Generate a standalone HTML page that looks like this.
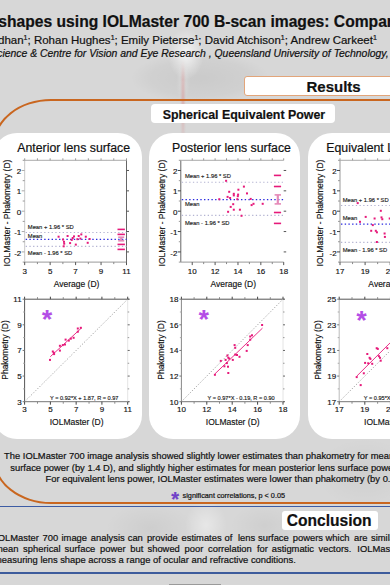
<!DOCTYPE html>
<html><head><meta charset="utf-8"><style>
*{margin:0;padding:0;box-sizing:border-box}
html,body{width:390px;height:585px;overflow:hidden}
body{position:relative;background:#d7d7d7;font-family:"Liberation Sans",sans-serif;color:#111}
.a{position:absolute;white-space:pre;line-height:1;-webkit-text-stroke:0.2px currentColor}
.panel{position:absolute;background:#fff;border-radius:24px}
svg{position:absolute;left:0;top:0;overflow:visible}
svg text{font-family:"Liberation Sans",sans-serif}
</style></head>
<body>
<div style="position:absolute;left:315px;top:438px;width:100px;height:70px;background:radial-gradient(ellipse at center, rgba(0,0,0,0.04) 0%, rgba(0,0,0,0) 70%)"></div>
<div style="position:absolute;left:230px;top:503px;width:70px;height:45px;background:radial-gradient(ellipse at center, rgba(0,0,0,0.04) 0%, rgba(0,0,0,0) 70%)"></div>
<div style="position:absolute;left:105px;top:503px;width:90px;height:50px;background:radial-gradient(ellipse at center, rgba(0,0,0,0.045) 0%, rgba(0,0,0,0) 70%)"></div>
<div style="position:absolute;left:185px;top:500px;width:42px;height:50px;background:radial-gradient(ellipse at center, rgba(255,255,255,0.4) 0%, rgba(255,255,255,0) 70%)"></div>
<div style="position:absolute;left:181.8px;top:60px;width:2.6px;height:76px;filter:blur(0.8px);background:linear-gradient(rgba(220,105,105,0), rgba(220,105,105,0.55) 25%, rgba(220,105,105,0.45) 70%, rgba(220,105,105,0.15))"></div>
<div style="position:absolute;left:176px;top:62px;width:14px;height:40px;background:radial-gradient(ellipse at center, rgba(255,255,255,0.3) 0%, rgba(255,255,255,0) 70%)"></div>
<div style="position:absolute;left:130px;top:52px;width:140px;height:52px;background:radial-gradient(ellipse at center, rgba(0,0,0,0.06) 0%, rgba(0,0,0,0.03) 50%, rgba(0,0,0,0) 70%)"></div>
<div style="position:absolute;left:168px;top:28px;width:36px;height:52px;background:radial-gradient(ellipse at center, rgba(255,255,255,0.75) 0%, rgba(255,255,255,0.25) 45%, rgba(255,255,255,0) 70%)"></div>
<div class="a" style="left:-1.70px;top:13.55px;font-size:15.65px;font-weight:bold;">shapes using IOLMaster 700 B-scan images: Comparison</div>
<div class="a" style="left:-2px;top:33.67px;font-size:11.5px">dhan<sup style="font-size:7px;vertical-align:4px">1</sup>; Rohan Hughes<sup style="font-size:7px;vertical-align:4px">1</sup>; Emily Pieterse<sup style="font-size:7px;vertical-align:4px">1</sup>; David Atchison<sup style="font-size:7px;vertical-align:4px">1</sup>; Andrew Carkeet<sup style="font-size:7px;vertical-align:4px">1</sup></div>
<div class="a" style="left:-2.80px;top:49.48px;font-size:10.42px;font-style:italic;">cience &amp; Centre for Vision and Eye Research , Queensland University of Technology, </div>
<div style="position:absolute;left:168.5px;top:583.5px;width:52.5px;height:5px;background:#cfcfcf;border-top:1px solid #9a9a9a"></div>
<div style="position:absolute;left:-7px;top:98.5px;width:500px;height:405px;border:2px solid #c9661f;border-radius:58px/46px"></div>
<div style="position:absolute;left:244px;top:76px;width:200px;height:20px;background:#fff;border:1px solid #e2a57a;border-radius:3px"></div>
<div class="a" style="left:306.50px;top:78.50px;font-size:15px;font-weight:bold;">Results</div>
<div style="position:absolute;left:151px;top:103.7px;width:184px;height:19px;background:#fff;border-radius:4px"></div>
<div class="a" style="left:162.70px;top:108.60px;font-size:12.4px;font-weight:bold;">Spherical Equivalent Power</div>
<div class="panel" style="left:-7.5px;top:132.7px;width:149.5px;height:306.5px"></div>
<div class="panel" style="left:149.2px;top:132.7px;width:151.3px;height:306.5px"></div>
<div class="panel" style="left:308.2px;top:132.7px;width:151px;height:306.5px"></div>
<div class="a" style="left:17.30px;top:141.59px;font-size:12.3px;">Anterior lens surface</div>
<div class="a" style="left:172.00px;top:141.59px;font-size:12.3px;">Posterior lens surface</div>
<div class="a" style="left:326.30px;top:141.59px;font-size:12.3px;">Equivalent Lens Power</div>
<div class="a" style="left:4.10px;top:452.08px;font-size:9.36px;">The IOLMaster 700 image analysis showed slightly lower estimates than phakometry for mean anterior lens</div>
<div class="a" style="left:10.30px;top:462.64px;font-size:9.4px;">surface power (by 1.4 D), and slightly higher estimates for mean posterior lens surface power</div>
<div class="a" style="left:45.50px;top:473.94px;font-size:9.4px;">For equivalent lens power, IOLMaster estimates were lower than phakometry (by 0.7 D).</div>
<div class="a" style="left:182.60px;top:491.65px;font-size:7.27px;">significant correlations, p &lt; 0.05</div>
<div class="a" style="left:171.3px;top:489px;font-size:20px;font-weight:bold;color:#7040c8">*</div>
<div style="position:absolute;left:0;top:505.7px;width:390px;height:1.6px;background:#3d5ca4"></div>
<div style="position:absolute;left:0;top:571.5px;width:390px;height:2px;background:#3d5c9c"></div>
<div style="position:absolute;left:282.3px;top:511.3px;width:95.4px;height:18.5px;background:#fff;border-radius:3px"></div>
<div class="a" style="left:286.70px;top:513.29px;font-size:15.6px;font-weight:bold;">Conclusion</div>
<div class="a" style="left:-23.58px;top:532.74px;font-size:9.4px;">The IOLMaster</div>
<div class="a" style="left:42.60px;top:532.74px;font-size:9.4px;">700</div>
<div class="a" style="left:61.50px;top:532.74px;font-size:9.4px;">image</div>
<div class="a" style="left:90.80px;top:532.74px;font-size:9.4px;">analysis</div>
<div class="a" style="left:127.70px;top:532.74px;font-size:9.4px;">can</div>
<div class="a" style="left:146.90px;top:532.74px;font-size:9.4px;">provide</div>
<div class="a" style="left:181.50px;top:532.74px;font-size:9.4px;">estimates</div>
<div class="a" style="left:224.60px;top:532.74px;font-size:9.4px;">of</div>
<div class="a" style="left:238.00px;top:532.74px;font-size:9.4px;">lens</div>
<div class="a" style="left:258.00px;top:532.74px;font-size:9.4px;">surface</div>
<div class="a" style="left:292.80px;top:532.74px;font-size:9.4px;">powers</div>
<div class="a" style="left:325.60px;top:532.74px;font-size:9.4px;">which</div>
<div class="a" style="left:354.00px;top:532.74px;font-size:9.4px;">are</div>
<div class="a" style="left:371.00px;top:532.74px;font-size:9.4px;">similar</div>
<div class="a" style="left:-5.00px;top:544.24px;font-size:9.4px;">mean</div>
<div class="a" style="left:23.10px;top:544.24px;font-size:9.4px;">spherical</div>
<div class="a" style="left:64.60px;top:544.24px;font-size:9.4px;">surface</div>
<div class="a" style="left:100.00px;top:544.24px;font-size:9.4px;">power</div>
<div class="a" style="left:130.30px;top:544.24px;font-size:9.4px;">but</div>
<div class="a" style="left:147.50px;top:544.24px;font-size:9.4px;">showed</div>
<div class="a" style="left:184.60px;top:544.24px;font-size:9.4px;">poor</div>
<div class="a" style="left:208.00px;top:544.24px;font-size:9.4px;">correlation</div>
<div class="a" style="left:256.90px;top:544.24px;font-size:9.4px;">for</div>
<div class="a" style="left:271.80px;top:544.24px;font-size:9.4px;">astigmatic</div>
<div class="a" style="left:318.50px;top:544.24px;font-size:9.4px;">vectors.</div>
<div class="a" style="left:357.30px;top:544.24px;font-size:9.4px;">IOLMaster</div>
<div class="a" style="left:-6.00px;top:555.24px;font-size:9.4px;">measuring lens shape across a range of ocular and refractive conditions.</div>
<svg width="390" height="585" viewBox="0 0 390 585"><line x1="24.70" y1="160.30" x2="24.70" y2="262.10" stroke="#c8c8c8" stroke-width="1"/>
<line x1="24.70" y1="262.10" x2="126.50" y2="262.10" stroke="#999" stroke-width="1"/>
<line x1="24.70" y1="160.30" x2="126.50" y2="160.30" stroke="#aaa" stroke-width="1"/>
<line x1="126.50" y1="160.30" x2="126.50" y2="262.10" stroke="#666" stroke-width="1"/>
<line x1="21.70" y1="170.48" x2="24.70" y2="170.48" stroke="#aaa" stroke-width="1"/>
<text x="21.30" y="174.08" font-size="8" text-anchor="end" fill="#111" stroke="#111" stroke-width="0.15">2</text>
<line x1="126.50" y1="170.48" x2="129.00" y2="170.48" stroke="#555" stroke-width="1"/>
<line x1="21.70" y1="190.84" x2="24.70" y2="190.84" stroke="#aaa" stroke-width="1"/>
<text x="21.30" y="194.44" font-size="8" text-anchor="end" fill="#111" stroke="#111" stroke-width="0.15">1</text>
<line x1="126.50" y1="190.84" x2="129.00" y2="190.84" stroke="#555" stroke-width="1"/>
<line x1="21.70" y1="211.20" x2="24.70" y2="211.20" stroke="#aaa" stroke-width="1"/>
<text x="21.30" y="214.80" font-size="8" text-anchor="end" fill="#111" stroke="#111" stroke-width="0.15">0</text>
<line x1="126.50" y1="211.20" x2="129.00" y2="211.20" stroke="#555" stroke-width="1"/>
<line x1="21.70" y1="231.56" x2="24.70" y2="231.56" stroke="#aaa" stroke-width="1"/>
<text x="21.30" y="235.16" font-size="8" text-anchor="end" fill="#111" stroke="#111" stroke-width="0.15">-1</text>
<line x1="126.50" y1="231.56" x2="129.00" y2="231.56" stroke="#555" stroke-width="1"/>
<line x1="21.70" y1="251.92" x2="24.70" y2="251.92" stroke="#aaa" stroke-width="1"/>
<text x="21.30" y="255.52" font-size="8" text-anchor="end" fill="#111" stroke="#111" stroke-width="0.15">-2</text>
<line x1="126.50" y1="251.92" x2="129.00" y2="251.92" stroke="#555" stroke-width="1"/>
<line x1="22.70" y1="160.30" x2="24.70" y2="160.30" stroke="#999" stroke-width="1"/>
<line x1="22.70" y1="180.66" x2="24.70" y2="180.66" stroke="#999" stroke-width="1"/>
<line x1="22.70" y1="201.02" x2="24.70" y2="201.02" stroke="#999" stroke-width="1"/>
<line x1="22.70" y1="221.38" x2="24.70" y2="221.38" stroke="#999" stroke-width="1"/>
<line x1="22.70" y1="241.74" x2="24.70" y2="241.74" stroke="#999" stroke-width="1"/>
<line x1="22.70" y1="262.10" x2="24.70" y2="262.10" stroke="#999" stroke-width="1"/>
<line x1="24.70" y1="262.10" x2="24.70" y2="265.10" stroke="#555" stroke-width="1"/>
<line x1="24.70" y1="158.30" x2="24.70" y2="160.30" stroke="#999" stroke-width="1"/>
<text x="24.70" y="273.60" font-size="8" text-anchor="middle" fill="#111" stroke="#111" stroke-width="0.15">3</text>
<line x1="50.15" y1="262.10" x2="50.15" y2="265.10" stroke="#555" stroke-width="1"/>
<line x1="50.15" y1="158.30" x2="50.15" y2="160.30" stroke="#999" stroke-width="1"/>
<text x="50.15" y="273.60" font-size="8" text-anchor="middle" fill="#111" stroke="#111" stroke-width="0.15">5</text>
<line x1="75.60" y1="262.10" x2="75.60" y2="265.10" stroke="#555" stroke-width="1"/>
<line x1="75.60" y1="158.30" x2="75.60" y2="160.30" stroke="#999" stroke-width="1"/>
<text x="75.60" y="273.60" font-size="8" text-anchor="middle" fill="#111" stroke="#111" stroke-width="0.15">7</text>
<line x1="101.05" y1="262.10" x2="101.05" y2="265.10" stroke="#555" stroke-width="1"/>
<line x1="101.05" y1="158.30" x2="101.05" y2="160.30" stroke="#999" stroke-width="1"/>
<text x="101.05" y="273.60" font-size="8" text-anchor="middle" fill="#111" stroke="#111" stroke-width="0.15">9</text>
<line x1="126.50" y1="262.10" x2="126.50" y2="265.10" stroke="#555" stroke-width="1"/>
<line x1="126.50" y1="158.30" x2="126.50" y2="160.30" stroke="#999" stroke-width="1"/>
<text x="126.50" y="273.60" font-size="8" text-anchor="middle" fill="#111" stroke="#111" stroke-width="0.15">11</text>
<line x1="37.42" y1="262.10" x2="37.42" y2="264.10" stroke="#888" stroke-width="1"/>
<line x1="37.42" y1="158.30" x2="37.42" y2="160.30" stroke="#999" stroke-width="1"/>
<line x1="62.88" y1="262.10" x2="62.88" y2="264.10" stroke="#888" stroke-width="1"/>
<line x1="62.88" y1="158.30" x2="62.88" y2="160.30" stroke="#999" stroke-width="1"/>
<line x1="88.33" y1="262.10" x2="88.33" y2="264.10" stroke="#888" stroke-width="1"/>
<line x1="88.33" y1="158.30" x2="88.33" y2="160.30" stroke="#999" stroke-width="1"/>
<line x1="113.78" y1="262.10" x2="113.78" y2="264.10" stroke="#888" stroke-width="1"/>
<line x1="113.78" y1="158.30" x2="113.78" y2="160.30" stroke="#999" stroke-width="1"/>
<line x1="25.70" y1="232.50" x2="126.50" y2="232.50" stroke="#b4b4d2" stroke-width="1.1" stroke-dasharray="1.3 2.4"/>
<line x1="25.70" y1="239.40" x2="126.50" y2="239.40" stroke="#2a2ae0" stroke-width="1.3" stroke-dasharray="1.4 2.3"/>
<line x1="25.70" y1="246.40" x2="126.50" y2="246.40" stroke="#b4b4d2" stroke-width="1.1" stroke-dasharray="1.3 2.4"/>
<text x="27.80" y="229.20" font-size="5.8" text-anchor="start" fill="#222" stroke="#222" stroke-width="0.15">Mean + 1.96 * SD</text>
<text x="27.80" y="238.20" font-size="5.8" text-anchor="start" fill="#222" stroke="#222" stroke-width="0.15">Mean</text>
<text x="27.80" y="254.70" font-size="5.8" text-anchor="start" fill="#222" stroke="#222" stroke-width="0.15">Mean - 1.96 * SD</text>
<rect x="57.60" y="235.70" width="2.00" height="2.00" fill="#e6197a"/>
<rect x="62.00" y="238.50" width="2.00" height="2.00" fill="#e6197a"/>
<rect x="63.00" y="240.80" width="2.00" height="2.00" fill="#e6197a"/>
<rect x="63.20" y="242.70" width="2.00" height="2.00" fill="#e6197a"/>
<rect x="62.70" y="245.30" width="2.00" height="2.00" fill="#e6197a"/>
<rect x="66.60" y="235.00" width="2.00" height="2.00" fill="#e6197a"/>
<rect x="69.10" y="242.10" width="2.00" height="2.00" fill="#e6197a"/>
<rect x="71.70" y="237.00" width="2.00" height="2.00" fill="#e6197a"/>
<rect x="73.00" y="235.40" width="2.00" height="2.00" fill="#e6197a"/>
<rect x="70.70" y="238.90" width="2.00" height="2.00" fill="#e6197a"/>
<rect x="74.80" y="243.60" width="2.00" height="2.00" fill="#e6197a"/>
<rect x="76.40" y="238.20" width="2.00" height="2.00" fill="#e6197a"/>
<rect x="77.70" y="235.00" width="2.00" height="2.00" fill="#e6197a"/>
<rect x="79.40" y="237.60" width="2.00" height="2.00" fill="#e6197a"/>
<rect x="80.30" y="233.40" width="2.00" height="2.00" fill="#e6197a"/>
<rect x="84.80" y="235.70" width="2.00" height="2.00" fill="#e6197a"/>
<rect x="86.70" y="241.80" width="2.00" height="2.00" fill="#e6197a"/>
<rect x="88.60" y="238.00" width="2.00" height="2.00" fill="#e6197a"/>
<line x1="117.50" y1="229.40" x2="124.90" y2="229.40" stroke="#e6197a" stroke-width="1.6"/>
<line x1="117.50" y1="234.40" x2="124.90" y2="234.40" stroke="#e6197a" stroke-width="1.6"/>
<line x1="117.50" y1="244.40" x2="124.90" y2="244.40" stroke="#e6197a" stroke-width="1.6"/>
<line x1="117.50" y1="249.40" x2="124.90" y2="249.40" stroke="#e6197a" stroke-width="1.6"/>
<line x1="121.20" y1="237.20" x2="121.20" y2="240.80" stroke="#e58ab8" stroke-width="2.2"/>
<line x1="118.20" y1="237.20" x2="124.20" y2="237.20" stroke="#e58ab8" stroke-width="1.6"/>
<line x1="118.20" y1="240.80" x2="124.20" y2="240.80" stroke="#e58ab8" stroke-width="1.6"/>
<text x="76.60" y="286.50" font-size="8.5" text-anchor="middle" fill="#111" stroke="#111" stroke-width="0.15">Average (D)</text>
<text x="9.50" y="213.00" font-size="8.5" text-anchor="middle" fill="#111" stroke="#111" stroke-width="0.15" transform="rotate(-90 9.50 213.00)">IOLMaster - Phakometry (D)</text>
<line x1="180.80" y1="160.30" x2="180.80" y2="262.10" stroke="#666" stroke-width="1"/>
<line x1="180.80" y1="262.10" x2="283.70" y2="262.10" stroke="#999" stroke-width="1"/>
<line x1="180.80" y1="160.30" x2="283.70" y2="160.30" stroke="#aaa" stroke-width="1"/>
<line x1="177.80" y1="170.48" x2="180.80" y2="170.48" stroke="#444" stroke-width="1"/>
<text x="177.40" y="174.08" font-size="8" text-anchor="end" fill="#111" stroke="#111" stroke-width="0.15">2</text>
<line x1="283.70" y1="170.48" x2="286.20" y2="170.48" stroke="#555" stroke-width="1"/>
<line x1="177.80" y1="190.84" x2="180.80" y2="190.84" stroke="#444" stroke-width="1"/>
<text x="177.40" y="194.44" font-size="8" text-anchor="end" fill="#111" stroke="#111" stroke-width="0.15">1</text>
<line x1="283.70" y1="190.84" x2="286.20" y2="190.84" stroke="#555" stroke-width="1"/>
<line x1="177.80" y1="211.20" x2="180.80" y2="211.20" stroke="#444" stroke-width="1"/>
<text x="177.40" y="214.80" font-size="8" text-anchor="end" fill="#111" stroke="#111" stroke-width="0.15">0</text>
<line x1="283.70" y1="211.20" x2="286.20" y2="211.20" stroke="#555" stroke-width="1"/>
<line x1="177.80" y1="231.56" x2="180.80" y2="231.56" stroke="#444" stroke-width="1"/>
<text x="177.40" y="235.16" font-size="8" text-anchor="end" fill="#111" stroke="#111" stroke-width="0.15">-1</text>
<line x1="283.70" y1="231.56" x2="286.20" y2="231.56" stroke="#555" stroke-width="1"/>
<line x1="177.80" y1="251.92" x2="180.80" y2="251.92" stroke="#444" stroke-width="1"/>
<text x="177.40" y="255.52" font-size="8" text-anchor="end" fill="#111" stroke="#111" stroke-width="0.15">-2</text>
<line x1="283.70" y1="251.92" x2="286.20" y2="251.92" stroke="#555" stroke-width="1"/>
<line x1="178.80" y1="160.30" x2="180.80" y2="160.30" stroke="#999" stroke-width="1"/>
<line x1="178.80" y1="180.66" x2="180.80" y2="180.66" stroke="#999" stroke-width="1"/>
<line x1="178.80" y1="201.02" x2="180.80" y2="201.02" stroke="#999" stroke-width="1"/>
<line x1="178.80" y1="221.38" x2="180.80" y2="221.38" stroke="#999" stroke-width="1"/>
<line x1="178.80" y1="241.74" x2="180.80" y2="241.74" stroke="#999" stroke-width="1"/>
<line x1="178.80" y1="262.10" x2="180.80" y2="262.10" stroke="#999" stroke-width="1"/>
<line x1="192.23" y1="262.10" x2="192.23" y2="265.10" stroke="#555" stroke-width="1"/>
<line x1="192.23" y1="158.30" x2="192.23" y2="160.30" stroke="#999" stroke-width="1"/>
<text x="192.23" y="273.60" font-size="8" text-anchor="middle" fill="#111" stroke="#111" stroke-width="0.15">10</text>
<line x1="215.10" y1="262.10" x2="215.10" y2="265.10" stroke="#555" stroke-width="1"/>
<line x1="215.10" y1="158.30" x2="215.10" y2="160.30" stroke="#999" stroke-width="1"/>
<text x="215.10" y="273.60" font-size="8" text-anchor="middle" fill="#111" stroke="#111" stroke-width="0.15">12</text>
<line x1="237.97" y1="262.10" x2="237.97" y2="265.10" stroke="#555" stroke-width="1"/>
<line x1="237.97" y1="158.30" x2="237.97" y2="160.30" stroke="#999" stroke-width="1"/>
<text x="237.97" y="273.60" font-size="8" text-anchor="middle" fill="#111" stroke="#111" stroke-width="0.15">14</text>
<line x1="260.83" y1="262.10" x2="260.83" y2="265.10" stroke="#555" stroke-width="1"/>
<line x1="260.83" y1="158.30" x2="260.83" y2="160.30" stroke="#999" stroke-width="1"/>
<text x="260.83" y="273.60" font-size="8" text-anchor="middle" fill="#111" stroke="#111" stroke-width="0.15">16</text>
<line x1="283.70" y1="262.10" x2="283.70" y2="265.10" stroke="#555" stroke-width="1"/>
<line x1="283.70" y1="158.30" x2="283.70" y2="160.30" stroke="#999" stroke-width="1"/>
<text x="283.70" y="273.60" font-size="8" text-anchor="middle" fill="#111" stroke="#111" stroke-width="0.15">18</text>
<line x1="203.67" y1="262.10" x2="203.67" y2="264.10" stroke="#888" stroke-width="1"/>
<line x1="203.67" y1="158.30" x2="203.67" y2="160.30" stroke="#999" stroke-width="1"/>
<line x1="226.53" y1="262.10" x2="226.53" y2="264.10" stroke="#888" stroke-width="1"/>
<line x1="226.53" y1="158.30" x2="226.53" y2="160.30" stroke="#999" stroke-width="1"/>
<line x1="249.40" y1="262.10" x2="249.40" y2="264.10" stroke="#888" stroke-width="1"/>
<line x1="249.40" y1="158.30" x2="249.40" y2="160.30" stroke="#999" stroke-width="1"/>
<line x1="272.27" y1="262.10" x2="272.27" y2="264.10" stroke="#888" stroke-width="1"/>
<line x1="272.27" y1="158.30" x2="272.27" y2="160.30" stroke="#999" stroke-width="1"/>
<line x1="181.80" y1="182.30" x2="283.70" y2="182.30" stroke="#b4b4d2" stroke-width="1.1" stroke-dasharray="1.3 2.4"/>
<line x1="181.80" y1="199.60" x2="283.70" y2="199.60" stroke="#2a2ae0" stroke-width="1.3" stroke-dasharray="1.4 2.3"/>
<line x1="181.80" y1="215.40" x2="283.70" y2="215.40" stroke="#b4b4d2" stroke-width="1.1" stroke-dasharray="1.3 2.4"/>
<text x="185.00" y="178.20" font-size="5.8" text-anchor="start" fill="#222" stroke="#222" stroke-width="0.15">Mean + 1.96 * SD</text>
<text x="185.00" y="206.40" font-size="5.8" text-anchor="start" fill="#222" stroke="#222" stroke-width="0.15">Mean</text>
<text x="185.00" y="224.90" font-size="5.8" text-anchor="start" fill="#222" stroke="#222" stroke-width="0.15">Mean - 1.96 * SD</text>
<rect x="225.10" y="179.80" width="2.00" height="2.00" fill="#e6197a"/>
<rect x="242.90" y="185.60" width="2.00" height="2.00" fill="#e6197a"/>
<rect x="237.40" y="188.70" width="2.00" height="2.00" fill="#e6197a"/>
<rect x="228.20" y="190.80" width="2.00" height="2.00" fill="#e6197a"/>
<rect x="246.00" y="192.40" width="2.00" height="2.00" fill="#e6197a"/>
<rect x="232.80" y="192.80" width="2.00" height="2.00" fill="#e6197a"/>
<rect x="232.80" y="194.40" width="2.00" height="2.00" fill="#e6197a"/>
<rect x="237.10" y="193.60" width="2.00" height="2.00" fill="#e6197a"/>
<rect x="236.80" y="195.20" width="2.00" height="2.00" fill="#e6197a"/>
<rect x="226.60" y="195.90" width="2.00" height="2.00" fill="#e6197a"/>
<rect x="229.10" y="197.00" width="2.00" height="2.00" fill="#e6197a"/>
<rect x="218.30" y="198.20" width="2.00" height="2.00" fill="#e6197a"/>
<rect x="236.30" y="198.20" width="2.00" height="2.00" fill="#e6197a"/>
<rect x="249.70" y="197.90" width="2.00" height="2.00" fill="#e6197a"/>
<rect x="252.50" y="202.80" width="2.00" height="2.00" fill="#e6197a"/>
<rect x="250.60" y="204.10" width="2.00" height="2.00" fill="#e6197a"/>
<rect x="261.70" y="202.80" width="2.00" height="2.00" fill="#e6197a"/>
<rect x="232.20" y="203.20" width="2.00" height="2.00" fill="#e6197a"/>
<rect x="229.70" y="205.90" width="2.00" height="2.00" fill="#e6197a"/>
<rect x="232.80" y="208.70" width="2.00" height="2.00" fill="#e6197a"/>
<rect x="238.90" y="208.70" width="2.00" height="2.00" fill="#e6197a"/>
<rect x="227.10" y="210.80" width="2.00" height="2.00" fill="#e6197a"/>
<rect x="240.50" y="214.80" width="2.00" height="2.00" fill="#e6197a"/>
<line x1="273.90" y1="175.40" x2="281.10" y2="175.40" stroke="#e6197a" stroke-width="1.6"/>
<line x1="273.90" y1="186.50" x2="281.10" y2="186.50" stroke="#e6197a" stroke-width="1.6"/>
<line x1="273.90" y1="212.50" x2="281.10" y2="212.50" stroke="#e6197a" stroke-width="1.6"/>
<line x1="273.90" y1="223.40" x2="281.10" y2="223.40" stroke="#e6197a" stroke-width="1.6"/>
<line x1="277.80" y1="194.90" x2="277.80" y2="203.90" stroke="#e58ab8" stroke-width="2.2"/>
<line x1="274.60" y1="194.90" x2="281.00" y2="194.90" stroke="#e58ab8" stroke-width="1.6"/>
<line x1="274.60" y1="203.90" x2="281.00" y2="203.90" stroke="#e58ab8" stroke-width="1.6"/>
<text x="233.25" y="286.50" font-size="8.5" text-anchor="middle" fill="#111" stroke="#111" stroke-width="0.15">Average (D)</text>
<text x="164.80" y="213.00" font-size="8.5" text-anchor="middle" fill="#111" stroke="#111" stroke-width="0.15" transform="rotate(-90 164.80 213.00)">IOLMaster - Phakometry (D)</text>
<line x1="340.00" y1="160.30" x2="340.00" y2="262.10" stroke="#999" stroke-width="1"/>
<line x1="340.00" y1="262.10" x2="440.40" y2="262.10" stroke="#999" stroke-width="1"/>
<line x1="340.00" y1="160.30" x2="440.40" y2="160.30" stroke="#aaa" stroke-width="1"/>
<line x1="337.00" y1="170.48" x2="340.00" y2="170.48" stroke="#444" stroke-width="1"/>
<text x="336.60" y="174.08" font-size="8" text-anchor="end" fill="#111" stroke="#111" stroke-width="0.15">2</text>
<line x1="440.40" y1="170.48" x2="442.90" y2="170.48" stroke="#555" stroke-width="1"/>
<line x1="337.00" y1="190.84" x2="340.00" y2="190.84" stroke="#444" stroke-width="1"/>
<text x="336.60" y="194.44" font-size="8" text-anchor="end" fill="#111" stroke="#111" stroke-width="0.15">1</text>
<line x1="440.40" y1="190.84" x2="442.90" y2="190.84" stroke="#555" stroke-width="1"/>
<line x1="337.00" y1="211.20" x2="340.00" y2="211.20" stroke="#444" stroke-width="1"/>
<text x="336.60" y="214.80" font-size="8" text-anchor="end" fill="#111" stroke="#111" stroke-width="0.15">0</text>
<line x1="440.40" y1="211.20" x2="442.90" y2="211.20" stroke="#555" stroke-width="1"/>
<line x1="337.00" y1="231.56" x2="340.00" y2="231.56" stroke="#444" stroke-width="1"/>
<text x="336.60" y="235.16" font-size="8" text-anchor="end" fill="#111" stroke="#111" stroke-width="0.15">-1</text>
<line x1="440.40" y1="231.56" x2="442.90" y2="231.56" stroke="#555" stroke-width="1"/>
<line x1="337.00" y1="251.92" x2="340.00" y2="251.92" stroke="#444" stroke-width="1"/>
<text x="336.60" y="255.52" font-size="8" text-anchor="end" fill="#111" stroke="#111" stroke-width="0.15">-2</text>
<line x1="440.40" y1="251.92" x2="442.90" y2="251.92" stroke="#555" stroke-width="1"/>
<line x1="338.00" y1="160.30" x2="340.00" y2="160.30" stroke="#999" stroke-width="1"/>
<line x1="338.00" y1="180.66" x2="340.00" y2="180.66" stroke="#999" stroke-width="1"/>
<line x1="338.00" y1="201.02" x2="340.00" y2="201.02" stroke="#999" stroke-width="1"/>
<line x1="338.00" y1="221.38" x2="340.00" y2="221.38" stroke="#999" stroke-width="1"/>
<line x1="338.00" y1="241.74" x2="340.00" y2="241.74" stroke="#999" stroke-width="1"/>
<line x1="338.00" y1="262.10" x2="340.00" y2="262.10" stroke="#999" stroke-width="1"/>
<line x1="340.00" y1="262.10" x2="340.00" y2="265.10" stroke="#555" stroke-width="1"/>
<line x1="340.00" y1="158.30" x2="340.00" y2="160.30" stroke="#999" stroke-width="1"/>
<text x="340.00" y="273.60" font-size="8" text-anchor="middle" fill="#111" stroke="#111" stroke-width="0.15">17</text>
<line x1="365.10" y1="262.10" x2="365.10" y2="265.10" stroke="#555" stroke-width="1"/>
<line x1="365.10" y1="158.30" x2="365.10" y2="160.30" stroke="#999" stroke-width="1"/>
<text x="365.10" y="273.60" font-size="8" text-anchor="middle" fill="#111" stroke="#111" stroke-width="0.15">19</text>
<line x1="390.20" y1="262.10" x2="390.20" y2="265.10" stroke="#555" stroke-width="1"/>
<line x1="390.20" y1="158.30" x2="390.20" y2="160.30" stroke="#999" stroke-width="1"/>
<text x="390.20" y="273.60" font-size="8" text-anchor="middle" fill="#111" stroke="#111" stroke-width="0.15">21</text>
<line x1="415.30" y1="262.10" x2="415.30" y2="265.10" stroke="#555" stroke-width="1"/>
<line x1="415.30" y1="158.30" x2="415.30" y2="160.30" stroke="#999" stroke-width="1"/>
<text x="415.30" y="273.60" font-size="8" text-anchor="middle" fill="#111" stroke="#111" stroke-width="0.15">23</text>
<line x1="440.40" y1="262.10" x2="440.40" y2="265.10" stroke="#555" stroke-width="1"/>
<line x1="440.40" y1="158.30" x2="440.40" y2="160.30" stroke="#999" stroke-width="1"/>
<text x="440.40" y="273.60" font-size="8" text-anchor="middle" fill="#111" stroke="#111" stroke-width="0.15">25</text>
<line x1="352.55" y1="262.10" x2="352.55" y2="264.10" stroke="#888" stroke-width="1"/>
<line x1="352.55" y1="158.30" x2="352.55" y2="160.30" stroke="#999" stroke-width="1"/>
<line x1="377.65" y1="262.10" x2="377.65" y2="264.10" stroke="#888" stroke-width="1"/>
<line x1="377.65" y1="158.30" x2="377.65" y2="160.30" stroke="#999" stroke-width="1"/>
<line x1="402.75" y1="262.10" x2="402.75" y2="264.10" stroke="#888" stroke-width="1"/>
<line x1="402.75" y1="158.30" x2="402.75" y2="160.30" stroke="#999" stroke-width="1"/>
<line x1="427.85" y1="262.10" x2="427.85" y2="264.10" stroke="#888" stroke-width="1"/>
<line x1="427.85" y1="158.30" x2="427.85" y2="160.30" stroke="#999" stroke-width="1"/>
<line x1="341.00" y1="205.50" x2="440.40" y2="205.50" stroke="#b4b4d2" stroke-width="1.1" stroke-dasharray="1.3 2.4"/>
<line x1="341.00" y1="224.20" x2="440.40" y2="224.20" stroke="#2a2ae0" stroke-width="1.3" stroke-dasharray="1.4 2.3"/>
<line x1="341.00" y1="242.40" x2="440.40" y2="242.40" stroke="#b4b4d2" stroke-width="1.1" stroke-dasharray="1.3 2.4"/>
<text x="342.70" y="201.90" font-size="5.8" text-anchor="start" fill="#222" stroke="#222" stroke-width="0.15">Mean + 1.96 * SD</text>
<text x="342.70" y="220.20" font-size="5.8" text-anchor="start" fill="#222" stroke="#222" stroke-width="0.15">Mean</text>
<text x="342.70" y="251.60" font-size="5.8" text-anchor="start" fill="#222" stroke="#222" stroke-width="0.15">Mean - 1.96 * SD</text>
<rect x="356.70" y="202.10" width="2.00" height="2.00" fill="#e6197a"/>
<rect x="364.70" y="215.90" width="2.00" height="2.00" fill="#e6197a"/>
<rect x="373.60" y="217.50" width="2.00" height="2.00" fill="#e6197a"/>
<rect x="359.00" y="220.80" width="2.00" height="2.00" fill="#e6197a"/>
<rect x="371.80" y="224.10" width="2.00" height="2.00" fill="#e6197a"/>
<rect x="379.80" y="209.80" width="2.00" height="2.00" fill="#e6197a"/>
<rect x="380.50" y="216.40" width="2.00" height="2.00" fill="#e6197a"/>
<rect x="381.30" y="218.20" width="2.00" height="2.00" fill="#e6197a"/>
<rect x="388.70" y="217.50" width="2.00" height="2.00" fill="#e6197a"/>
<rect x="370.20" y="229.80" width="2.00" height="2.00" fill="#e6197a"/>
<rect x="374.80" y="229.80" width="2.00" height="2.00" fill="#e6197a"/>
<rect x="375.90" y="231.30" width="2.00" height="2.00" fill="#e6197a"/>
<rect x="383.60" y="232.50" width="2.00" height="2.00" fill="#e6197a"/>
<rect x="383.90" y="235.90" width="2.00" height="2.00" fill="#e6197a"/>
<rect x="375.90" y="241.00" width="2.00" height="2.00" fill="#e6197a"/>
<text x="391.20" y="286.50" font-size="8.5" text-anchor="middle" fill="#111" stroke="#111" stroke-width="0.15">Average (D)</text>
<text x="322.50" y="213.00" font-size="8.5" text-anchor="middle" fill="#111" stroke="#111" stroke-width="0.15" transform="rotate(-90 322.50 213.00)">IOLMaster - Phakometry (D)</text>
<line x1="24.60" y1="299.20" x2="24.60" y2="401.70" stroke="#555" stroke-width="1"/>
<line x1="24.60" y1="401.70" x2="129.20" y2="401.70" stroke="#777" stroke-width="1"/>
<line x1="24.60" y1="299.20" x2="129.20" y2="299.20" stroke="#555" stroke-width="1"/>
<line x1="127.70" y1="299.20" x2="127.70" y2="401.70" stroke="#e4e4e4" stroke-width="1"/>
<line x1="24.60" y1="401.70" x2="127.70" y2="299.20" stroke="#888" stroke-width="0.8" stroke-dasharray="1.2 1.8"/>
<line x1="24.60" y1="401.70" x2="24.60" y2="404.70" stroke="#444" stroke-width="1"/>
<line x1="24.60" y1="296.70" x2="24.60" y2="299.20" stroke="#444" stroke-width="1"/>
<text x="24.60" y="411.50" font-size="8" text-anchor="middle" fill="#111" stroke="#111" stroke-width="0.15">3</text>
<line x1="22.60" y1="401.70" x2="24.60" y2="401.70" stroke="#777" stroke-width="1"/>
<line x1="127.70" y1="401.70" x2="129.70" y2="401.70" stroke="#666" stroke-width="1"/>
<text x="21.60" y="404.60" font-size="8" text-anchor="end" fill="#111" stroke="#111" stroke-width="0.15">3</text>
<line x1="37.49" y1="401.70" x2="37.49" y2="403.70" stroke="#888" stroke-width="1"/>
<line x1="37.49" y1="297.20" x2="37.49" y2="299.20" stroke="#888" stroke-width="1"/>
<line x1="23.10" y1="388.89" x2="24.60" y2="388.89" stroke="#aaa" stroke-width="1"/>
<line x1="127.70" y1="388.89" x2="129.20" y2="388.89" stroke="#999" stroke-width="1"/>
<line x1="50.38" y1="401.70" x2="50.38" y2="404.70" stroke="#444" stroke-width="1"/>
<line x1="50.38" y1="296.70" x2="50.38" y2="299.20" stroke="#444" stroke-width="1"/>
<text x="50.38" y="411.50" font-size="8" text-anchor="middle" fill="#111" stroke="#111" stroke-width="0.15">5</text>
<line x1="22.60" y1="376.07" x2="24.60" y2="376.07" stroke="#777" stroke-width="1"/>
<line x1="127.70" y1="376.07" x2="129.70" y2="376.07" stroke="#666" stroke-width="1"/>
<text x="21.60" y="378.97" font-size="8" text-anchor="end" fill="#111" stroke="#111" stroke-width="0.15">5</text>
<line x1="63.26" y1="401.70" x2="63.26" y2="403.70" stroke="#888" stroke-width="1"/>
<line x1="63.26" y1="297.20" x2="63.26" y2="299.20" stroke="#888" stroke-width="1"/>
<line x1="23.10" y1="363.26" x2="24.60" y2="363.26" stroke="#aaa" stroke-width="1"/>
<line x1="127.70" y1="363.26" x2="129.20" y2="363.26" stroke="#999" stroke-width="1"/>
<line x1="76.15" y1="401.70" x2="76.15" y2="404.70" stroke="#444" stroke-width="1"/>
<line x1="76.15" y1="296.70" x2="76.15" y2="299.20" stroke="#444" stroke-width="1"/>
<text x="76.15" y="411.50" font-size="8" text-anchor="middle" fill="#111" stroke="#111" stroke-width="0.15">7</text>
<line x1="22.60" y1="350.45" x2="24.60" y2="350.45" stroke="#777" stroke-width="1"/>
<line x1="127.70" y1="350.45" x2="129.70" y2="350.45" stroke="#666" stroke-width="1"/>
<text x="21.60" y="353.35" font-size="8" text-anchor="end" fill="#111" stroke="#111" stroke-width="0.15">7</text>
<line x1="89.04" y1="401.70" x2="89.04" y2="403.70" stroke="#888" stroke-width="1"/>
<line x1="89.04" y1="297.20" x2="89.04" y2="299.20" stroke="#888" stroke-width="1"/>
<line x1="23.10" y1="337.64" x2="24.60" y2="337.64" stroke="#aaa" stroke-width="1"/>
<line x1="127.70" y1="337.64" x2="129.20" y2="337.64" stroke="#999" stroke-width="1"/>
<line x1="101.92" y1="401.70" x2="101.92" y2="404.70" stroke="#444" stroke-width="1"/>
<line x1="101.92" y1="296.70" x2="101.92" y2="299.20" stroke="#444" stroke-width="1"/>
<text x="101.92" y="411.50" font-size="8" text-anchor="middle" fill="#111" stroke="#111" stroke-width="0.15">9</text>
<line x1="22.60" y1="324.82" x2="24.60" y2="324.82" stroke="#777" stroke-width="1"/>
<line x1="127.70" y1="324.82" x2="129.70" y2="324.82" stroke="#666" stroke-width="1"/>
<text x="21.60" y="327.72" font-size="8" text-anchor="end" fill="#111" stroke="#111" stroke-width="0.15">9</text>
<line x1="114.81" y1="401.70" x2="114.81" y2="403.70" stroke="#888" stroke-width="1"/>
<line x1="114.81" y1="297.20" x2="114.81" y2="299.20" stroke="#888" stroke-width="1"/>
<line x1="23.10" y1="312.01" x2="24.60" y2="312.01" stroke="#aaa" stroke-width="1"/>
<line x1="127.70" y1="312.01" x2="129.20" y2="312.01" stroke="#999" stroke-width="1"/>
<line x1="127.70" y1="401.70" x2="127.70" y2="404.70" stroke="#444" stroke-width="1"/>
<line x1="127.70" y1="296.70" x2="127.70" y2="299.20" stroke="#444" stroke-width="1"/>
<text x="127.70" y="411.50" font-size="8" text-anchor="middle" fill="#111" stroke="#111" stroke-width="0.15">11</text>
<line x1="22.60" y1="299.20" x2="24.60" y2="299.20" stroke="#777" stroke-width="1"/>
<line x1="127.70" y1="299.20" x2="129.70" y2="299.20" stroke="#666" stroke-width="1"/>
<text x="21.60" y="302.10" font-size="8" text-anchor="end" fill="#111" stroke="#111" stroke-width="0.15">11</text>
<line x1="50.30" y1="356.70" x2="81.70" y2="327.80" stroke="#e6197a" stroke-width="0.9"/>
<rect x="49.00" y="358.90" width="2.00" height="2.00" fill="#e6197a"/>
<rect x="51.80" y="350.50" width="2.00" height="2.00" fill="#e6197a"/>
<rect x="52.80" y="351.80" width="2.00" height="2.00" fill="#e6197a"/>
<rect x="53.10" y="353.10" width="2.00" height="2.00" fill="#e6197a"/>
<rect x="58.90" y="344.80" width="2.00" height="2.00" fill="#e6197a"/>
<rect x="58.90" y="349.60" width="2.00" height="2.00" fill="#e6197a"/>
<rect x="61.80" y="344.10" width="2.00" height="2.00" fill="#e6197a"/>
<rect x="64.00" y="343.50" width="2.00" height="2.00" fill="#e6197a"/>
<rect x="64.60" y="338.60" width="2.00" height="2.00" fill="#e6197a"/>
<rect x="67.80" y="339.60" width="2.00" height="2.00" fill="#e6197a"/>
<rect x="69.80" y="337.70" width="2.00" height="2.00" fill="#e6197a"/>
<rect x="72.60" y="336.80" width="2.00" height="2.00" fill="#e6197a"/>
<rect x="76.80" y="327.50" width="2.00" height="2.00" fill="#e6197a"/>
<rect x="76.80" y="330.70" width="2.00" height="2.00" fill="#e6197a"/>
<rect x="79.80" y="326.80" width="2.00" height="2.00" fill="#e6197a"/>
<text x="47.00" y="327.50" font-size="26" text-anchor="middle" fill="#b44de6" stroke="#b44de6" stroke-width="0.15" font-weight="bold">*</text>
<text x="50.00" y="399.60" font-size="5.6" text-anchor="start" fill="#222" stroke="#222" stroke-width="0.15">Y = 0.92*X + 1.87, R = 0.97</text>
<text x="76.65" y="424.50" font-size="8.5" text-anchor="middle" fill="#111" stroke="#111" stroke-width="0.15">IOLMaster (D)</text>
<text x="7.50" y="350.00" font-size="8.5" text-anchor="middle" fill="#111" stroke="#111" stroke-width="0.15" transform="rotate(-90 7.50 350.00)">Phakometry (D)</text>
<line x1="181.40" y1="299.20" x2="181.40" y2="401.70" stroke="#888" stroke-width="1"/>
<line x1="181.40" y1="401.70" x2="284.50" y2="401.70" stroke="#777" stroke-width="1"/>
<line x1="181.40" y1="299.20" x2="284.50" y2="299.20" stroke="#555" stroke-width="1"/>
<line x1="283.00" y1="299.20" x2="283.00" y2="401.70" stroke="#e4e4e4" stroke-width="1"/>
<line x1="181.40" y1="401.70" x2="283.00" y2="299.20" stroke="#888" stroke-width="0.8" stroke-dasharray="1.2 1.8"/>
<line x1="181.40" y1="401.70" x2="181.40" y2="404.70" stroke="#444" stroke-width="1"/>
<line x1="181.40" y1="296.70" x2="181.40" y2="299.20" stroke="#444" stroke-width="1"/>
<text x="181.40" y="411.50" font-size="8" text-anchor="middle" fill="#111" stroke="#111" stroke-width="0.15">10</text>
<line x1="179.40" y1="401.70" x2="181.40" y2="401.70" stroke="#777" stroke-width="1"/>
<line x1="283.00" y1="401.70" x2="285.00" y2="401.70" stroke="#666" stroke-width="1"/>
<text x="178.40" y="404.60" font-size="8" text-anchor="end" fill="#111" stroke="#111" stroke-width="0.15">10</text>
<line x1="194.10" y1="401.70" x2="194.10" y2="403.70" stroke="#888" stroke-width="1"/>
<line x1="194.10" y1="297.20" x2="194.10" y2="299.20" stroke="#888" stroke-width="1"/>
<line x1="179.90" y1="388.89" x2="181.40" y2="388.89" stroke="#aaa" stroke-width="1"/>
<line x1="283.00" y1="388.89" x2="284.50" y2="388.89" stroke="#999" stroke-width="1"/>
<line x1="206.80" y1="401.70" x2="206.80" y2="404.70" stroke="#444" stroke-width="1"/>
<line x1="206.80" y1="296.70" x2="206.80" y2="299.20" stroke="#444" stroke-width="1"/>
<text x="206.80" y="411.50" font-size="8" text-anchor="middle" fill="#111" stroke="#111" stroke-width="0.15">12</text>
<line x1="179.40" y1="376.07" x2="181.40" y2="376.07" stroke="#777" stroke-width="1"/>
<line x1="283.00" y1="376.07" x2="285.00" y2="376.07" stroke="#666" stroke-width="1"/>
<text x="178.40" y="378.97" font-size="8" text-anchor="end" fill="#111" stroke="#111" stroke-width="0.15">12</text>
<line x1="219.50" y1="401.70" x2="219.50" y2="403.70" stroke="#888" stroke-width="1"/>
<line x1="219.50" y1="297.20" x2="219.50" y2="299.20" stroke="#888" stroke-width="1"/>
<line x1="179.90" y1="363.26" x2="181.40" y2="363.26" stroke="#aaa" stroke-width="1"/>
<line x1="283.00" y1="363.26" x2="284.50" y2="363.26" stroke="#999" stroke-width="1"/>
<line x1="232.20" y1="401.70" x2="232.20" y2="404.70" stroke="#444" stroke-width="1"/>
<line x1="232.20" y1="296.70" x2="232.20" y2="299.20" stroke="#444" stroke-width="1"/>
<text x="232.20" y="411.50" font-size="8" text-anchor="middle" fill="#111" stroke="#111" stroke-width="0.15">14</text>
<line x1="179.40" y1="350.45" x2="181.40" y2="350.45" stroke="#777" stroke-width="1"/>
<line x1="283.00" y1="350.45" x2="285.00" y2="350.45" stroke="#666" stroke-width="1"/>
<text x="178.40" y="353.35" font-size="8" text-anchor="end" fill="#111" stroke="#111" stroke-width="0.15">14</text>
<line x1="244.90" y1="401.70" x2="244.90" y2="403.70" stroke="#888" stroke-width="1"/>
<line x1="244.90" y1="297.20" x2="244.90" y2="299.20" stroke="#888" stroke-width="1"/>
<line x1="179.90" y1="337.64" x2="181.40" y2="337.64" stroke="#aaa" stroke-width="1"/>
<line x1="283.00" y1="337.64" x2="284.50" y2="337.64" stroke="#999" stroke-width="1"/>
<line x1="257.60" y1="401.70" x2="257.60" y2="404.70" stroke="#444" stroke-width="1"/>
<line x1="257.60" y1="296.70" x2="257.60" y2="299.20" stroke="#444" stroke-width="1"/>
<text x="257.60" y="411.50" font-size="8" text-anchor="middle" fill="#111" stroke="#111" stroke-width="0.15">16</text>
<line x1="179.40" y1="324.82" x2="181.40" y2="324.82" stroke="#777" stroke-width="1"/>
<line x1="283.00" y1="324.82" x2="285.00" y2="324.82" stroke="#666" stroke-width="1"/>
<text x="178.40" y="327.72" font-size="8" text-anchor="end" fill="#111" stroke="#111" stroke-width="0.15">16</text>
<line x1="270.30" y1="401.70" x2="270.30" y2="403.70" stroke="#888" stroke-width="1"/>
<line x1="270.30" y1="297.20" x2="270.30" y2="299.20" stroke="#888" stroke-width="1"/>
<line x1="179.90" y1="312.01" x2="181.40" y2="312.01" stroke="#aaa" stroke-width="1"/>
<line x1="283.00" y1="312.01" x2="284.50" y2="312.01" stroke="#999" stroke-width="1"/>
<line x1="283.00" y1="401.70" x2="283.00" y2="404.70" stroke="#444" stroke-width="1"/>
<line x1="283.00" y1="296.70" x2="283.00" y2="299.20" stroke="#444" stroke-width="1"/>
<text x="283.00" y="411.50" font-size="8" text-anchor="middle" fill="#111" stroke="#111" stroke-width="0.15">18</text>
<line x1="179.40" y1="299.20" x2="181.40" y2="299.20" stroke="#777" stroke-width="1"/>
<line x1="283.00" y1="299.20" x2="285.00" y2="299.20" stroke="#666" stroke-width="1"/>
<text x="178.40" y="302.10" font-size="8" text-anchor="end" fill="#111" stroke="#111" stroke-width="0.15">18</text>
<line x1="214.90" y1="373.90" x2="262.50" y2="328.10" stroke="#e6197a" stroke-width="0.9"/>
<rect x="213.90" y="373.80" width="2.00" height="2.00" fill="#e6197a"/>
<rect x="227.30" y="372.00" width="2.00" height="2.00" fill="#e6197a"/>
<rect x="223.40" y="365.30" width="2.00" height="2.00" fill="#e6197a"/>
<rect x="227.00" y="365.70" width="2.00" height="2.00" fill="#e6197a"/>
<rect x="225.90" y="362.10" width="2.00" height="2.00" fill="#e6197a"/>
<rect x="219.80" y="359.90" width="2.00" height="2.00" fill="#e6197a"/>
<rect x="224.60" y="358.90" width="2.00" height="2.00" fill="#e6197a"/>
<rect x="231.80" y="358.90" width="2.00" height="2.00" fill="#e6197a"/>
<rect x="227.30" y="356.70" width="2.00" height="2.00" fill="#e6197a"/>
<rect x="228.20" y="357.60" width="2.00" height="2.00" fill="#e6197a"/>
<rect x="226.40" y="354.50" width="2.00" height="2.00" fill="#e6197a"/>
<rect x="234.20" y="353.60" width="2.00" height="2.00" fill="#e6197a"/>
<rect x="236.00" y="354.00" width="2.00" height="2.00" fill="#e6197a"/>
<rect x="238.50" y="355.80" width="2.00" height="2.00" fill="#e6197a"/>
<rect x="233.60" y="344.10" width="2.00" height="2.00" fill="#e6197a"/>
<rect x="234.20" y="346.80" width="2.00" height="2.00" fill="#e6197a"/>
<rect x="245.70" y="349.90" width="2.00" height="2.00" fill="#e6197a"/>
<rect x="246.70" y="344.10" width="2.00" height="2.00" fill="#e6197a"/>
<rect x="249.20" y="338.70" width="2.00" height="2.00" fill="#e6197a"/>
<rect x="249.20" y="335.50" width="2.00" height="2.00" fill="#e6197a"/>
<rect x="251.00" y="334.30" width="2.00" height="2.00" fill="#e6197a"/>
<rect x="261.10" y="324.00" width="2.00" height="2.00" fill="#e6197a"/>
<text x="203.70" y="328.10" font-size="26" text-anchor="middle" fill="#b44de6" stroke="#b44de6" stroke-width="0.15" font-weight="bold">*</text>
<text x="207.60" y="399.60" font-size="5.6" text-anchor="start" fill="#222" stroke="#222" stroke-width="0.15">Y = 0.97*X - 0.19, R = 0.90</text>
<text x="232.70" y="424.50" font-size="8.5" text-anchor="middle" fill="#111" stroke="#111" stroke-width="0.15">IOLMaster (D)</text>
<text x="163.50" y="350.00" font-size="8.5" text-anchor="middle" fill="#111" stroke="#111" stroke-width="0.15" transform="rotate(-90 163.50 350.00)">Phakometry (D)</text>
<line x1="339.20" y1="299.20" x2="339.20" y2="401.70" stroke="#bbb" stroke-width="1"/>
<line x1="339.20" y1="401.70" x2="443.20" y2="401.70" stroke="#777" stroke-width="1"/>
<line x1="339.20" y1="299.20" x2="443.20" y2="299.20" stroke="#555" stroke-width="1"/>
<line x1="441.70" y1="299.20" x2="441.70" y2="401.70" stroke="#e4e4e4" stroke-width="1"/>
<line x1="339.20" y1="401.70" x2="441.70" y2="299.20" stroke="#888" stroke-width="0.8" stroke-dasharray="1.2 1.8"/>
<line x1="339.20" y1="401.70" x2="339.20" y2="404.70" stroke="#444" stroke-width="1"/>
<line x1="339.20" y1="296.70" x2="339.20" y2="299.20" stroke="#444" stroke-width="1"/>
<text x="339.20" y="411.50" font-size="8" text-anchor="middle" fill="#111" stroke="#111" stroke-width="0.15">17</text>
<line x1="337.20" y1="401.70" x2="339.20" y2="401.70" stroke="#777" stroke-width="1"/>
<line x1="441.70" y1="401.70" x2="443.70" y2="401.70" stroke="#666" stroke-width="1"/>
<text x="336.20" y="404.60" font-size="8" text-anchor="end" fill="#111" stroke="#111" stroke-width="0.15">17</text>
<line x1="352.01" y1="401.70" x2="352.01" y2="403.70" stroke="#888" stroke-width="1"/>
<line x1="352.01" y1="297.20" x2="352.01" y2="299.20" stroke="#888" stroke-width="1"/>
<line x1="337.70" y1="388.89" x2="339.20" y2="388.89" stroke="#aaa" stroke-width="1"/>
<line x1="441.70" y1="388.89" x2="443.20" y2="388.89" stroke="#999" stroke-width="1"/>
<line x1="364.82" y1="401.70" x2="364.82" y2="404.70" stroke="#444" stroke-width="1"/>
<line x1="364.82" y1="296.70" x2="364.82" y2="299.20" stroke="#444" stroke-width="1"/>
<text x="364.82" y="411.50" font-size="8" text-anchor="middle" fill="#111" stroke="#111" stroke-width="0.15">19</text>
<line x1="337.20" y1="376.07" x2="339.20" y2="376.07" stroke="#777" stroke-width="1"/>
<line x1="441.70" y1="376.07" x2="443.70" y2="376.07" stroke="#666" stroke-width="1"/>
<text x="336.20" y="378.97" font-size="8" text-anchor="end" fill="#111" stroke="#111" stroke-width="0.15">19</text>
<line x1="377.64" y1="401.70" x2="377.64" y2="403.70" stroke="#888" stroke-width="1"/>
<line x1="377.64" y1="297.20" x2="377.64" y2="299.20" stroke="#888" stroke-width="1"/>
<line x1="337.70" y1="363.26" x2="339.20" y2="363.26" stroke="#aaa" stroke-width="1"/>
<line x1="441.70" y1="363.26" x2="443.20" y2="363.26" stroke="#999" stroke-width="1"/>
<line x1="390.45" y1="401.70" x2="390.45" y2="404.70" stroke="#444" stroke-width="1"/>
<line x1="390.45" y1="296.70" x2="390.45" y2="299.20" stroke="#444" stroke-width="1"/>
<text x="390.45" y="411.50" font-size="8" text-anchor="middle" fill="#111" stroke="#111" stroke-width="0.15">21</text>
<line x1="337.20" y1="350.45" x2="339.20" y2="350.45" stroke="#777" stroke-width="1"/>
<line x1="441.70" y1="350.45" x2="443.70" y2="350.45" stroke="#666" stroke-width="1"/>
<text x="336.20" y="353.35" font-size="8" text-anchor="end" fill="#111" stroke="#111" stroke-width="0.15">21</text>
<line x1="403.26" y1="401.70" x2="403.26" y2="403.70" stroke="#888" stroke-width="1"/>
<line x1="403.26" y1="297.20" x2="403.26" y2="299.20" stroke="#888" stroke-width="1"/>
<line x1="337.70" y1="337.64" x2="339.20" y2="337.64" stroke="#aaa" stroke-width="1"/>
<line x1="441.70" y1="337.64" x2="443.20" y2="337.64" stroke="#999" stroke-width="1"/>
<line x1="416.07" y1="401.70" x2="416.07" y2="404.70" stroke="#444" stroke-width="1"/>
<line x1="416.07" y1="296.70" x2="416.07" y2="299.20" stroke="#444" stroke-width="1"/>
<text x="416.07" y="411.50" font-size="8" text-anchor="middle" fill="#111" stroke="#111" stroke-width="0.15">23</text>
<line x1="337.20" y1="324.82" x2="339.20" y2="324.82" stroke="#777" stroke-width="1"/>
<line x1="441.70" y1="324.82" x2="443.70" y2="324.82" stroke="#666" stroke-width="1"/>
<text x="336.20" y="327.72" font-size="8" text-anchor="end" fill="#111" stroke="#111" stroke-width="0.15">23</text>
<line x1="428.89" y1="401.70" x2="428.89" y2="403.70" stroke="#888" stroke-width="1"/>
<line x1="428.89" y1="297.20" x2="428.89" y2="299.20" stroke="#888" stroke-width="1"/>
<line x1="337.70" y1="312.01" x2="339.20" y2="312.01" stroke="#aaa" stroke-width="1"/>
<line x1="441.70" y1="312.01" x2="443.20" y2="312.01" stroke="#999" stroke-width="1"/>
<line x1="441.70" y1="401.70" x2="441.70" y2="404.70" stroke="#444" stroke-width="1"/>
<line x1="441.70" y1="296.70" x2="441.70" y2="299.20" stroke="#444" stroke-width="1"/>
<text x="441.70" y="411.50" font-size="8" text-anchor="middle" fill="#111" stroke="#111" stroke-width="0.15">25</text>
<line x1="337.20" y1="299.20" x2="339.20" y2="299.20" stroke="#777" stroke-width="1"/>
<line x1="441.70" y1="299.20" x2="443.70" y2="299.20" stroke="#666" stroke-width="1"/>
<text x="336.20" y="302.10" font-size="8" text-anchor="end" fill="#111" stroke="#111" stroke-width="0.15">25</text>
<line x1="356.70" y1="376.20" x2="420.00" y2="313.00" stroke="#e6197a" stroke-width="0.9"/>
<rect x="355.70" y="376.10" width="2.00" height="2.00" fill="#e6197a"/>
<rect x="359.70" y="384.10" width="2.00" height="2.00" fill="#e6197a"/>
<rect x="362.80" y="372.30" width="2.00" height="2.00" fill="#e6197a"/>
<rect x="364.10" y="361.90" width="2.00" height="2.00" fill="#e6197a"/>
<rect x="366.30" y="353.00" width="2.00" height="2.00" fill="#e6197a"/>
<rect x="367.20" y="362.30" width="2.00" height="2.00" fill="#e6197a"/>
<rect x="368.60" y="356.80" width="2.00" height="2.00" fill="#e6197a"/>
<rect x="369.40" y="357.90" width="2.00" height="2.00" fill="#e6197a"/>
<rect x="371.20" y="362.80" width="2.00" height="2.00" fill="#e6197a"/>
<rect x="375.70" y="347.20" width="2.00" height="2.00" fill="#e6197a"/>
<rect x="376.80" y="347.90" width="2.00" height="2.00" fill="#e6197a"/>
<rect x="377.90" y="355.20" width="2.00" height="2.00" fill="#e6197a"/>
<rect x="379.00" y="356.80" width="2.00" height="2.00" fill="#e6197a"/>
<rect x="379.70" y="359.70" width="2.00" height="2.00" fill="#e6197a"/>
<rect x="386.30" y="347.20" width="2.00" height="2.00" fill="#e6197a"/>
<text x="361.60" y="328.50" font-size="26" text-anchor="middle" fill="#b44de6" stroke="#b44de6" stroke-width="0.15" font-weight="bold">*</text>
<text x="363.80" y="399.60" font-size="5.6" text-anchor="start" fill="#222" stroke="#222" stroke-width="0.15">Y = 0.95*X + 1.52, R = 0.94</text>
<text x="390.95" y="424.50" font-size="8.5" text-anchor="middle" fill="#111" stroke="#111" stroke-width="0.15">IOLMaster (D)</text>
<text x="320.50" y="350.00" font-size="8.5" text-anchor="middle" fill="#111" stroke="#111" stroke-width="0.15" transform="rotate(-90 320.50 350.00)">Phakometry (D)</text></svg>
</body></html>
